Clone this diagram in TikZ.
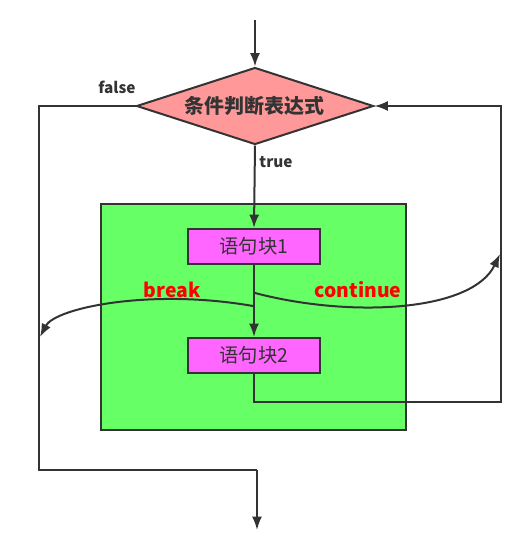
\documentclass[tikz,border=0pt]{standalone}
\usepackage{fontspec}
\setmainfont{Noto Sans CJK SC}
\usepackage{tikz}
\usetikzlibrary{shapes.geometric,positioning,arrows.meta}
\definecolor{linegray}{HTML}{333333}
\definecolor{condred}{HTML}{FF9999}
\definecolor{bodygreen}{HTML}{66FF66}
\definecolor{stmtpink}{HTML}{FF66FF}
\tikzstyle{cond} = [draw=linegray, fill=condred, line width=1.5pt, diamond,
    aspect=3, inner sep=0pt, minimum width=177.75pt, minimum height=57.75pt,
    font=\fontsize{15}{17}\selectfont\bfseries, text=linegray]
\tikzstyle{loopbody} = [draw=linegray, fill=bodygreen, line width=1.5pt,
    rectangle, minimum width=228.75pt, minimum height=169.5pt]
\tikzstyle{stmt} = [draw=linegray, fill=stmtpink, line width=1.5pt,
    rectangle, minimum width=99pt, minimum height=26.25pt,
    font=\fontsize{14.5}{16}\selectfont, text=linegray]
\tikzstyle{flow} = [draw=linegray, line width=1.5pt,
    -{Latex[length=10pt,width=7.5pt]}]
\tikzstyle{plain} = [draw=linegray, line width=1.5pt]
\tikzstyle{smalltag} = [font=\fontsize{11.5}{13}\selectfont\bfseries, text=linegray]
\tikzstyle{jumptag} = [font=\fontsize{14.5}{16}\selectfont\bfseries, text=red]

\begin{document}
\begin{tikzpicture}[x=0.75pt, y=-0.75pt]

\useasboundingbox (0,0) rectangle (515,537);

\coordinate (start) at (255,20);
\coordinate (back) at (501,402);
\coordinate (outcorner) at (39,470);
\coordinate (outjoin) at (257,470);
\coordinate (stop) at (257,530);

\node [cond] (cond) at (255,106) {条件判断表达式};

\node [loopbody] (body) at (253.5,317) {};

\node [stmt] (blk1) at (254,246.5) {语句块1};

\node [stmt, below=54pt of blk1] (blk2) {语句块2};

\coordinate (brk) at (253,306);
\coordinate (brkend) at (40,337);
\coordinate (cont) at (255,293);
\coordinate (contend) at (500,254);

\draw [flow] (start) -- (cond.north);
\draw [flow] (cond.south) -- (blk1.north);
\draw [flow] (blk1.south) -- (blk2.north);

\draw [flow] (blk2.south) |- (back) |- (cond.east);

\draw [plain] (cond.west) -| (outcorner) -- (outjoin);
\draw [flow] (outjoin) -- (stop);

\draw [flow] (brk) .. controls (150,288) and (55,308) .. (brkend);
\draw [flow] (cont) .. controls (350,318) and (472,312) .. (contend);

\node [smalltag] (falsetag) at (117,87) {false};
\node [smalltag] (truetag) at (276,162) {true};
\node [jumptag] (breaktag) at (172,290) {break};
\node [jumptag] (conttag) at (358,290) {continue};

\end{tikzpicture}
\end{document}
